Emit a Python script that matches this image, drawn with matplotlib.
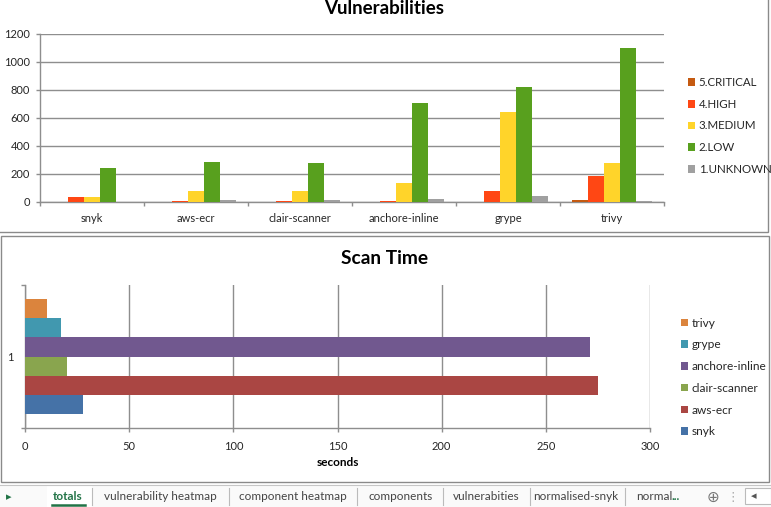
import numpy as np
import matplotlib.pyplot as plt
from matplotlib.patches import Rectangle
from matplotlib.lines import Line2D

plt.rcParams['font.family'] = ['Lato', 'DejaVu Sans']

# vulnerabilities per scanner
scanners = ['snyk', 'aws-ecr', 'clair-scanner', 'anchore-inline', 'grype', 'trivy']
severities = ['5.CRITICAL', '4.HIGH', '3.MEDIUM', '2.LOW', '1.UNKNOWN']
critical = [0, 0, 0, 0, 0, 15]
high = [36, 9, 5, 8, 78, 183]
medium = [36, 80, 77, 133, 646, 278]
low = [242, 288, 280, 706, 820, 1098]
unknown = [0, 14, 14, 23, 40, 5]
sev_colors = ['#C55A11', '#FF4714', '#FFD42A', '#58A01E', '#A0A0A0']

# scan time in seconds
scan_tools = ['snyk', 'aws-ecr', 'clair-scanner', 'anchore-inline', 'grype', 'trivy']
scan_secs = [28.0, 275.0, 20.0, 271.0, 17.3, 10.4]
scan_colors = ['#4572A7', '#AA4643', '#89A54E', '#71588F', '#4198AF', '#DB843D']

tabs = ['totals', 'vulnerability heatmap', 'component heatmap', 'components',
        'vulnerabities', 'normalised-snyk']

W, H = 771, 507
fig = plt.figure(figsize=(W / 100, H / 100), dpi=100)
fig.patch.set_facecolor('white')


def fx(x):
    return x / W


def fy(y):
    return 1 - y / H


def px_axes(l, t, r, b):
    return fig.add_axes([fx(l), fy(b), (r - l) / W, (b - t) / H])


txt = '#262626'
grid = '#8E8E8E'

# chart frames
fig.add_artist(Rectangle((fx(-2), fy(232)), (770) / W, 234 / H, transform=fig.transFigure,
                         fill=False, ec='#8A8A8A', lw=1.0))
fig.add_artist(Rectangle((fx(1), fy(482)), 768 / W, 246 / H, transform=fig.transFigure,
                         fill=False, ec='#8A8A8A', lw=1.0))
fig.add_artist(Line2D([fx(770.5)] * 2, [fy(0), fy(484)], transform=fig.transFigure,
                      color='#D4D4D4', lw=0.8))

# ---- top chart ----
ax = px_axes(40, 34, 664, 202)
x = np.arange(len(scanners))
bw = 0.154
series = [critical, high, medium, low, unknown]
for i, (vals, name, c) in enumerate(zip(series, severities, sev_colors)):
    ax.bar(x + (i - 2) * bw, vals, bw, color=c, label=name, zorder=3)
ax.set_xlim(-0.5, len(scanners) - 0.5)
ax.set_ylim(0, 1200)
ax.set_yticks(range(0, 1201, 200))
ax.yaxis.grid(True, color=grid, lw=1.0, zorder=0)
ax.set_xticks(np.arange(-0.5, len(scanners)), [''] * (len(scanners) + 1))
ax.set_xticks(x, scanners, minor=True)
ax.tick_params(axis='x', which='major', length=3, color=grid, width=1.0)
ax.tick_params(axis='x', which='minor', length=0, pad=8, labelsize=8, labelcolor=txt)
ax.tick_params(axis='y', length=3, color=grid, width=1.0, pad=4, labelsize=8, labelcolor=txt)
for s in ['top', 'right']:
    ax.spines[s].set_visible(False)
for s in ['left', 'bottom']:
    ax.spines[s].set_color(grid)
    ax.spines[s].set_linewidth(1.0)
h, l = ax.get_legend_handles_labels()
fig.legend(h, l, loc='center left', bbox_to_anchor=(fx(682), fy(126)), frameon=False,
           fontsize=8.3, handlelength=0.65, handleheight=0.65, handletextpad=0.3,
           labelspacing=0.92, borderpad=0, labelcolor=txt)
fig.text(fx(384), fy(9), 'Vulnerabilities', ha='center', va='center',
         fontsize=13.5, fontweight='bold', color='black')

# ---- bottom chart ----
ax2 = px_axes(25, 285, 650, 428)
bh = 0.134
for i, (name, v, c) in enumerate(zip(scan_tools, scan_secs, scan_colors)):
    ax2.barh(1 + (i - 2.5) * bh, v, bh, color=c, label=name, zorder=3)
ax2.set_ylim(0.5, 1.5)
ax2.set_xlim(0, 300)
ax2.set_xticks(range(0, 301, 50))
ax2.xaxis.grid(True, color=grid, lw=1.0, zorder=0)
ax2.set_yticks([0.5, 1.5], ['', ''])
ax2.set_yticks([1], ['1'], minor=True)
ax2.tick_params(axis='y', which='major', length=3, color=grid, width=1.0)
ax2.tick_params(axis='y', which='minor', length=0, pad=8, labelsize=8, labelcolor=txt)
ax2.tick_params(axis='x', length=3, color=grid, width=1.0, pad=6, labelsize=8, labelcolor=txt)
for s in ['top', 'right']:
    ax2.spines[s].set_visible(False)
for s in ['left', 'bottom']:
    ax2.spines[s].set_color(grid)
    ax2.spines[s].set_linewidth(1.0)
ax2.set_xlabel('seconds', fontsize=8.5, fontweight='bold', color='black', labelpad=4)
h2, l2 = ax2.get_legend_handles_labels()
fig.legend(h2[::-1], l2[::-1], loc='center left', bbox_to_anchor=(fx(675), fy(377.5)),
           frameon=False, fontsize=8.6, handlelength=0.6, handleheight=0.6,
           handletextpad=0.3, labelspacing=0.9, borderpad=0, labelcolor=txt)
fig.text(fx(385), fy(258), 'Scan Time', ha='center', va='center',
         fontsize=13.8, fontweight='bold', color='black')

# ---- sheet tab bar ----
fig.add_artist(Rectangle((0, 0), 1, fy(485), transform=fig.transFigure,
                         fc='#FAFAFA', ec='none'))
fig.add_artist(Line2D([0, 1], [fy(485)] * 2, transform=fig.transFigure,
                      color='#C6C6C6', lw=0.8))
fig.add_artist(Rectangle((fx(47), 0), 45 / W, fy(486), transform=fig.transFigure,
                         fc='white', ec='none'))
tab_x = [68, 160, 293, 401, 486, 576]
for t, xc in zip(tabs, tab_x):
    if t == 'totals':
        fig.text(fx(xc), fy(497), t, ha='center', va='center', fontsize=8.5,
                 fontweight='bold', color='#217346')
    else:
        fig.text(fx(xc), fy(497), t, ha='center', va='center', fontsize=8.5, color='#444444')
fig.add_artist(Line2D([fx(52), fx(85)], [fy(505)] * 2, transform=fig.transFigure,
                      color='#217346', lw=1.8))
fig.text(fx(636), fy(497), 'normal', ha='left', va='center', fontsize=8.5, color='#444444')
fig.text(fx(672), fy(497), '...', ha='left', va='center', fontsize=8.5,
         fontweight='bold', color='#217346')
for sx in [92, 229, 357, 443, 530, 625]:
    fig.add_artist(Line2D([fx(sx)] * 2, [fy(488), fy(505)], transform=fig.transFigure,
                          color='#BBBBBB', lw=0.8))
fig.text(fx(9), fy(497), '\u25B8', ha='center', va='center', fontsize=8, color='#217346',
         family='DejaVu Sans')
fig.text(fx(713), fy(497), '\u2295', ha='center', va='center', fontsize=11, color='#777777',
         family='DejaVu Sans')
fig.text(fx(733), fy(497), '\u22EE', ha='center', va='center', fontsize=9, color='#AAAAAA',
         family='DejaVu Sans')
fig.add_artist(Rectangle((fx(745), fy(504)), 26 / W, 16 / H, transform=fig.transFigure,
                         fc='white', ec='#BBBBBB', lw=0.8))
fig.text(fx(754), fy(496), '\u25C2', ha='center', va='center', fontsize=8, color='#555555',
         family='DejaVu Sans')

fig.savefig('out.png', dpi=100)
